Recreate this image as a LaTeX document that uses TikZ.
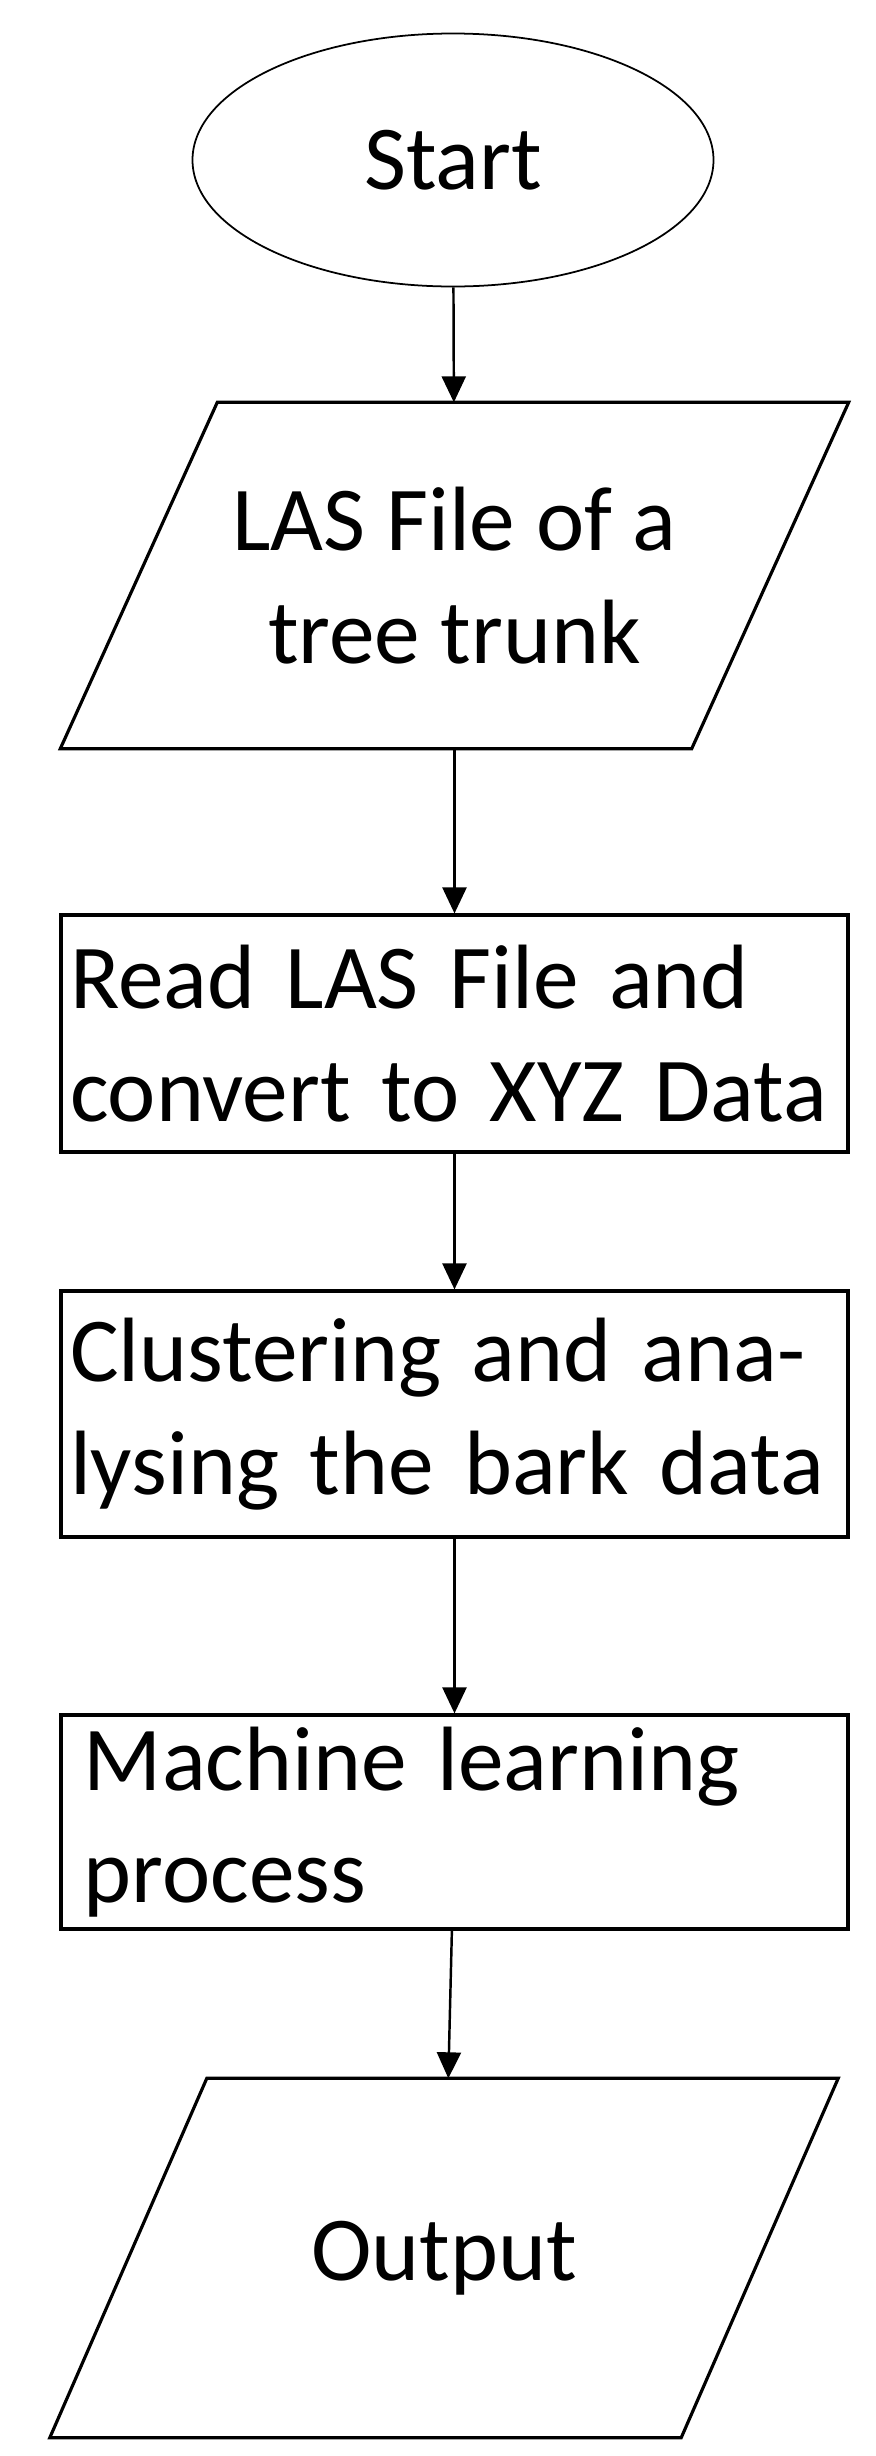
\documentclass[tikz,border=0pt]{standalone}
\usepackage{fontspec}
\setmainfont{Carlito}
\usetikzlibrary{arrows.meta}
\usetikzlibrary{shapes.geometric}

\tikzset{
    every node/.style={font=\fontsize{26}{32}\selectfont},
    term/.style={ellipse, draw, line width=0.5pt, minimum width=5.21cm, minimum height=2.53cm},
    io/.style={rectangle, minimum width=7.87cm, align=center},
    proc/.style={rectangle, draw, line width=0.9pt, minimum width=7.87cm, inner xsep=0.09cm, text width=7.69cm, align=left},
    flow/.style={-{Triangle[width=0.24cm,length=0.26cm]}, line width=0.7pt},
}

\begin{document}
\begin{tikzpicture}
            \useasboundingbox (0,0) rectangle (8.76,-24.56);

            \node[term] (start) at (4.53,-1.60) {Start};
            \node[io, minimum height=3.45cm] (las) at (4.545,-5.755) {LAS File of a\\tree trunk};
            \node[proc, minimum height=2.37cm] (read) at (4.545,-10.335) {Read LAS File and\\convert to XYZ Data};
            \node[proc, minimum height=2.46cm] (clus) at (4.545,-14.14) {Clustering and ana-\\lysing the bark data};
            \node[proc, minimum height=2.14cm, inner xsep=0.23cm, text width=7.41cm] (ml) at (4.545,-18.22) {Machine learning\\process};
            \node[io, minimum height=3.58cm] (out) at (4.44,-22.58) {Output};

            % parallelograms
            \draw[line width=0.9pt] ([xshift=1.57cm]las.north west) -- (las.north east)
                    -- ([xshift=-1.57cm]las.south east) -- (las.south west) -- cycle;
            \draw[line width=0.9pt] ([xshift=1.57cm]out.north west) -- (out.north east)
                    -- ([xshift=-1.57cm]out.south east) -- (out.south west) -- cycle;

            \draw[flow] (start) -- (las);
            \draw[flow] (las) -- (read);
            \draw[flow] (read) -- (clus);
            \draw[flow] (clus) -- (ml);
            \draw[flow] (ml) -- (out);
\end{tikzpicture}
\end{document}
